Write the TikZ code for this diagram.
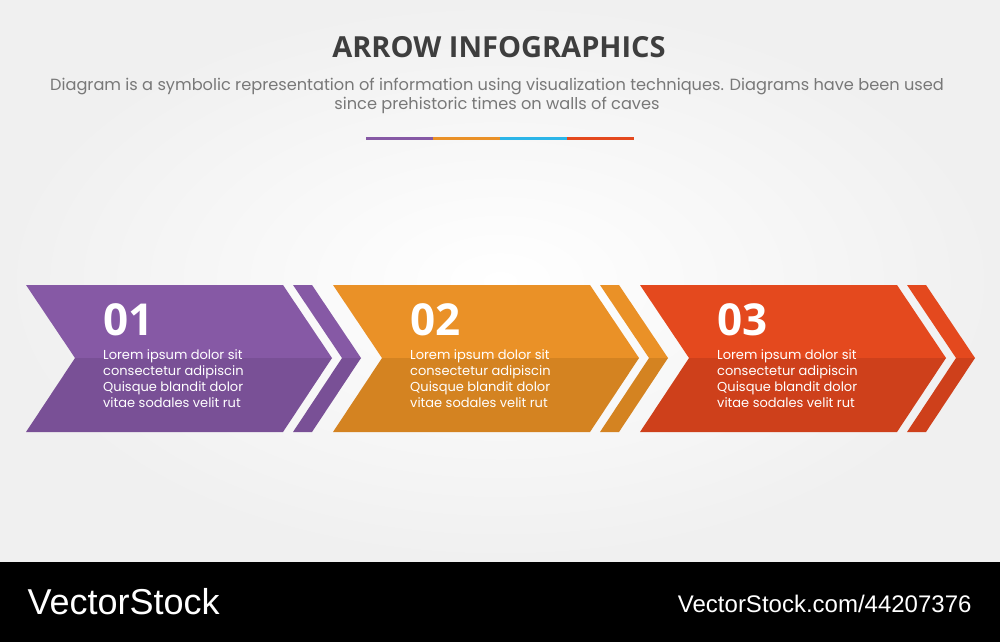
\documentclass[tikz,border=0pt]{standalone}
\usepackage{fontspec}
\setmainfont{Poppins}
\newfontfamily\headfont{Open Sans}
\newfontfamily\markfont{Liberation Sans}
\usetikzlibrary{calc}
\definecolor{purpleA}{RGB}{134,89,165}
\definecolor{purpleB}{RGB}{121,80,150}
\definecolor{orangeA}{RGB}{234,145,39}
\definecolor{orangeB}{RGB}{212,131,33}
\definecolor{redA}{RGB}{228,73,30}
\definecolor{redB}{RGB}{206,64,27}
\definecolor{blueA}{RGB}{43,181,232}
\definecolor{titlegray}{RGB}{62,62,62}
\definecolor{subgray}{RGB}{120,120,120}
\definecolor{bgedge}{RGB}{240,240,240}
% chevron with its thin double at offset x0: top colour, bottom colour
\def\chevron(#1)(#2)(#3){%
  \fill[#2] (#1, 285) -- ++(257, 0) -- ++(49, 73) -- ++(-257, 0) -- cycle;
  \fill[#3] (#1+49, 358) -- ++(257, 0) -- ++(-49, 74) -- ++(-257, 0) -- cycle;
  \fill[#2] (#1+267, 285) -- ++(19, 0) -- ++(49, 73) -- ++(-19, 0) -- cycle;
  \fill[#3] (#1+316, 358) -- ++(19, 0) -- ++(-49, 74) -- ++(-19, 0) -- cycle;
}
\tikzset{
  numtext/.style={anchor=base west, inner sep=0, text=white, font=\headfont\bfseries\fontsize{44}{44}\selectfont},
  bodytext/.style={anchor=north west, inner sep=0, text=white, align=left, font=\fontsize{13}{16.3}\selectfont},
  bar/.style={line width=3pt}
}

\begin{document}
\begin{tikzpicture}[x=1pt, y=-1pt]
		%%%%% START %%%%%
		
		\useasboundingbox (0, 0) rectangle (1000, 642);
		\shade[inner color=white, outer color=bgedge] (0, 0) rectangle (1000, 562);
		
		\node[font=\headfont\bfseries\fontsize{29}{29}\selectfont, text=titlegray] (title) at (499, 47) {ARROW INFOGRAPHICS};
		\node[font=\fontsize{16.2}{19}\selectfont, text=subgray, align=center] (subtitle) at (497, 96)
			{Diagram is a symbolic representation of information using visualization techniques. Diagrams have been used\\since prehistoric times on walls of caves};
		
		\coordinate (bar0) at (366, 138);
		\coordinate (bar1) at (433, 138);
		\coordinate (bar2) at (500, 138);
		\coordinate (bar3) at (567, 138);
		\coordinate (bar4) at (634, 138);
		\draw[bar, purpleA] (bar0) -- (bar1);
		\draw[bar, orangeA] (bar1) -- (bar2);
		\draw[bar, blueA] (bar2) -- (bar3);
		\draw[bar, redA] (bar3) -- (bar4);
		
		\chevron(26)(purpleA)(purpleB)
		\chevron(333)(orangeA)(orangeB)
		\chevron(640)(redA)(redB)
		
		\foreach \x/\n in {26/01, 333/02, 640/03} {
			\node[numtext] (num\n) at (\x+77, 335) {\n};
			\node[bodytext] (body\n) at (\x+77, 349)
				{Lorem ipsum dolor sit\\consectetur adipiscin\\Quisque blandit dolor\\vitae sodales velit rut};
		}
		
		\fill[black] (0, 562) rectangle (1000, 642);
		\node[anchor=west, text=white, font=\markfont\fontsize{36}{36}\selectfont] (logo) at (24, 602) {VectorStock};
		\node[anchor=east, text=white, font=\markfont\fontsize{24}{24}\selectfont] (link) at (975, 604) {VectorStock.com/44207376};
		
		%%%%% END %%%%%
\end{tikzpicture}
\end{document}
